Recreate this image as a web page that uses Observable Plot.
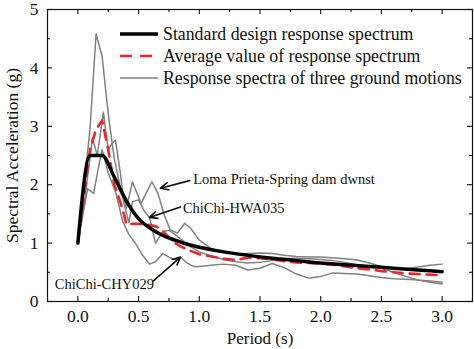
<!DOCTYPE html>
<html>
<head>
<meta charset="utf-8">
<script src="https://cdn.jsdelivr.net/npm/d3@7"></script>
<script src="https://cdn.jsdelivr.net/npm/@observablehq/plot@0.6"></script>
<style>
  body { margin: 0; background: white; }
  #wrap { position: relative; width: 474px; height: 349px; font-family: "Liberation Serif", "Tinos", "Times New Roman", "DejaVu Serif", serif; }
  #legend { position: absolute; left: 120px; top: 23px; font-size: 17.8px; color: #111; font-family: "Liberation Serif", "Tinos", "Times New Roman", "DejaVu Serif", serif; }
  .row { display: flex; align-items: center; height: 22px; white-space: nowrap; }
  .row svg { margin-right: 5px; }
  svg text { font-family: "Liberation Serif", "Tinos", "Times New Roman", "DejaVu Serif", serif; }
</style>
</head>
<body>
<div id="wrap"></div>
<script>
// ---- data ----
const seriesNames = ["Standard design response spectrum", "Average value of response spectrum", "Response spectra of three ground motions"];

const stdPeriod = [0, 0.1, 0.2, 0.3, 0.4, 0.5, 0.6, 0.7, 0.8, 0.9, 1.0, 1.2, 1.4, 1.6, 1.8, 2.0, 2.2, 2.4, 2.6, 2.8, 3.0];
const stdValue  = [1.0, 2.5, 2.5, 2.13, 1.72, 1.42, 1.25, 1.13, 1.05, 0.98, 0.93, 0.85, 0.79, 0.74, 0.70, 0.66, 0.63, 0.60, 0.57, 0.54, 0.51];

const avgPeriod = [0, 0.05, 0.1, 0.15, 0.2, 0.25, 0.3, 0.35, 0.38, 0.4, 0.45, 0.5, 0.55, 0.6, 0.65, 0.7, 0.75, 0.8, 0.85, 0.9, 0.95, 1.0,
                   1.1, 1.2, 1.3, 1.4, 1.5, 1.6, 1.7, 1.8, 1.9, 2.0, 2.1, 2.2, 2.3, 2.4, 2.5, 2.6, 2.7, 2.8, 2.9, 3.0];
const avgValue  = [1.0, 1.8, 2.6, 2.95, 3.1, 2.6, 2.0, 1.7, 1.49, 1.32, 1.33, 1.33, 1.32, 1.31, 1.28, 1.2, 1.1, 1.0, 0.94, 0.89, 0.85, 0.81,
                   0.77, 0.73, 0.71, 0.75, 0.74, 0.72, 0.69, 0.67, 0.66, 0.65, 0.63, 0.6, 0.57, 0.55, 0.52, 0.5, 0.48, 0.47, 0.46, 0.45];

const lomaPeriod = [0, 0.1, 0.15, 0.2, 0.23, 0.26, 0.3, 0.35, 0.4, 0.45, 0.52, 0.61, 0.66, 0.71, 0.76, 0.82, 0.88, 0.93, 1.0,
                    1.1, 1.2, 1.3, 1.4, 1.5, 1.6, 1.7, 1.8, 1.9, 2.0, 2.1, 2.2, 2.3, 2.4, 2.5, 2.6, 2.7, 2.8, 2.9, 3.0];
const lomaValue  = [1.0, 2.95, 4.58, 4.2, 3.6, 3.05, 2.45, 1.95, 1.6, 2.05, 1.68, 2.05, 1.85, 1.49, 1.23, 1.17, 1.34, 1.25, 1.05,
                    0.9, 0.85, 0.82, 0.82, 0.83, 0.82, 0.79, 0.77, 0.76, 0.76, 0.75, 0.73, 0.71, 0.66, 0.6, 0.55, 0.56, 0.59, 0.62, 0.64];

const hwaPeriod = [0, 0.06, 0.12, 0.16, 0.21, 0.25, 0.28, 0.31, 0.35, 0.38, 0.42, 0.45, 0.5, 0.55, 0.59, 0.64, 0.7, 0.75, 0.8, 0.86, 0.92, 1.0,
                   1.1, 1.2, 1.3, 1.4, 1.5, 1.6, 1.7, 1.8, 1.9, 2.0, 2.1, 2.2, 2.3, 2.4, 2.5, 2.6, 2.7, 2.8, 2.9, 3.0];
const hwaValue  = [1.0, 1.8, 2.8, 2.5, 3.24, 2.6, 2.7, 2.76, 2.2, 1.68, 1.35, 1.71, 1.74, 1.54, 1.44, 1.0, 1.2, 1.22, 1.15, 1.05, 0.95, 0.85,
                   0.78, 0.72, 0.68, 0.66, 0.67, 0.7, 0.73, 0.74, 0.73, 0.72, 0.7, 0.67, 0.63, 0.6, 0.57, 0.5, 0.43, 0.37, 0.33, 0.3];

const chyPeriod = [0, 0.08, 0.13, 0.17, 0.2, 0.25, 0.31, 0.37, 0.42, 0.48, 0.53, 0.59, 0.64, 0.7, 0.75, 0.8, 0.85, 0.9, 0.95, 1.0,
                   1.1, 1.2, 1.3, 1.4, 1.5, 1.6, 1.7, 1.8, 1.9, 2.0, 2.1, 2.2, 2.3, 2.4, 2.5, 2.6, 2.7, 2.8, 2.9, 3.0];
const chyValue  = [1.0, 1.93, 1.85, 2.3, 2.6, 2.2, 1.88, 1.37, 1.15, 0.98, 0.8, 0.64, 0.68, 0.82, 0.76, 0.72, 0.75, 0.66, 0.6, 0.6,
                   0.62, 0.64, 0.62, 0.54, 0.57, 0.65, 0.58, 0.47, 0.4, 0.43, 0.49, 0.48, 0.47, 0.44, 0.41, 0.39, 0.38, 0.37, 0.35, 0.33];

const xTickValues = [0, 0.5, 1.0, 1.5, 2.0, 2.5, 3.0];
const xMinorTicks = [-0.25, 0.25, 0.75, 1.25, 1.75, 2.25, 2.75, 3.25];
const yTickValues = [0, 1, 2, 3, 4, 5];
const yMinorTicks = [0.5, 1.5, 2.5, 3.5, 4.5];

const annoLabels = ["Loma Prieta-Spring dam dwnst", "ChiChi-HWA035", "ChiChi-CHY029"];
const annoTextT  = [0.95, 0.865, -0.19];
const annoTextV  = [2.10, 1.59, 0.30];
const annoFromT  = [0.92, 0.845, 0.62];
const annoFromV  = [2.07, 1.62, 0.35];
const annoToT    = [0.68, 0.59, 0.845];
const annoToV    = [1.94, 1.44, 0.76];

// ---- build tables ----
const zip = (ts, vs, name) => ts.map((t, i) => ({period: t, value: vs[i], name}));
const stdData = zip(stdPeriod, stdValue, "std");
const avgData = zip(avgPeriod, avgValue, "avg");
const motions = [
  ...zip(lomaPeriod, lomaValue, "Loma"),
  ...zip(hwaPeriod, hwaValue, "HWA035"),
  ...zip(chyPeriod, chyValue, "CHY029")
];
const annos = annoLabels.map((label, i) => ({label, tx: annoTextT[i], tv: annoTextV[i], x1: annoFromT[i], y1: annoFromV[i], x2: annoToT[i], y2: annoToV[i]}));

const W = 474, H = 349, mL = 47, mR = 2, mT = 9, mB = 48;
const innerW = W - mL - mR, innerH = H - mT - mB;
const serif = '"Liberation Serif", "Tinos", "Times New Roman", "DejaVu Serif", serif';

const chart = Plot.plot({
  width: W, height: H,
  marginLeft: mL, marginRight: mR, marginTop: mT, marginBottom: mB,
  style: {fontFamily: serif, fontSize: "17px", background: "white", color: "#111"},
  x: {domain: [-0.25, 3.25], axis: null},
  y: {domain: [0, 5], axis: null},
  marks: [
    // data lines
    Plot.line(motions, {x: "period", y: "value", z: "name", stroke: "#808080", strokeWidth: 1.5}),
    Plot.line(avgData, {x: "period", y: "value", stroke: "#e8282b", strokeWidth: 2.6, strokeDasharray: "10,7"}),
    Plot.line(stdData, {x: "period", y: "value", stroke: "black", strokeWidth: 3.5, curve: "monotone-x"}),
    // frame
    Plot.frame({stroke: "#111", strokeWidth: 1.2}),
    // inward ticks: bottom/top
    Plot.tickX(xTickValues, {x: d => d, insetTop: innerH - 5, stroke: "#111", strokeWidth: 1.1}),
    Plot.tickX(xMinorTicks, {x: d => d, insetTop: innerH - 3, stroke: "#111", strokeWidth: 1.1}),
    Plot.tickX(xTickValues, {x: d => d, insetBottom: innerH - 5, stroke: "#111", strokeWidth: 1.1}),
    Plot.tickX(xMinorTicks, {x: d => d, insetBottom: innerH - 3, stroke: "#111", strokeWidth: 1.1}),
    // inward ticks: left/right
    Plot.tickY(yTickValues, {y: d => d, insetRight: innerW - 5, stroke: "#111", strokeWidth: 1.1}),
    Plot.tickY(yMinorTicks, {y: d => d, insetRight: innerW - 3, stroke: "#111", strokeWidth: 1.1}),
    Plot.tickY(yTickValues, {y: d => d, insetLeft: innerW - 5, stroke: "#111", strokeWidth: 1.1}),
    Plot.tickY(yMinorTicks, {y: d => d, insetLeft: innerW - 3, stroke: "#111", strokeWidth: 1.1}),
    // tick labels
    Plot.axisX(xTickValues, {anchor: "bottom", tickSize: 0, tickPadding: 8, tickFormat: d3.format(".1f"), label: null, fontSize: 17.5}),
    Plot.axisY(yTickValues, {anchor: "left", tickSize: 0, tickPadding: 9, tickFormat: d3.format("d"), label: null, fontSize: 17.5}),
    // axis titles
    Plot.text(["Period (s)"], {frameAnchor: "bottom", lineAnchor: "middle", dy: 37, fontSize: 17, fill: "#111"}),
    Plot.text(["Spectral Acceleration (g)"], {frameAnchor: "left", textAnchor: "middle", rotate: -90, dx: -35, fontSize: 17.5, fill: "#111"}),
    // annotations
    Plot.arrow(annos, {x1: "x1", y1: "y1", x2: "x2", y2: "y2", stroke: "#111", strokeWidth: 1.6, headLength: 8, headAngle: 50}),
    Plot.text(annos, {x: "tx", y: "tv", text: "label", textAnchor: "start", fontSize: 14.5, fill: "#111"})
  ]
});

const wrap = document.getElementById("wrap");
wrap.appendChild(chart);

// legend (inside plot area, top)
const legend = document.createElement("div");
legend.id = "legend";
const styles = [
  {stroke: "black", width: 3.5, dash: null},
  {stroke: "#e8282b", width: 2.6, dash: "12,8"},
  {stroke: "#808080", width: 1.5, dash: null}
];
seriesNames.forEach((name, i) => {
  const row = document.createElement("div");
  row.className = "row";
  const s = styles[i];
  row.innerHTML = `<svg width="38" height="10"><line x1="0" y1="5" x2="38" y2="5" stroke="${s.stroke}" stroke-width="${s.width}" ${s.dash ? `stroke-dasharray="${s.dash}"` : ""}/></svg><span>${name}</span>`;
  legend.appendChild(row);
});
wrap.appendChild(legend);
</script>
</body>
</html>
